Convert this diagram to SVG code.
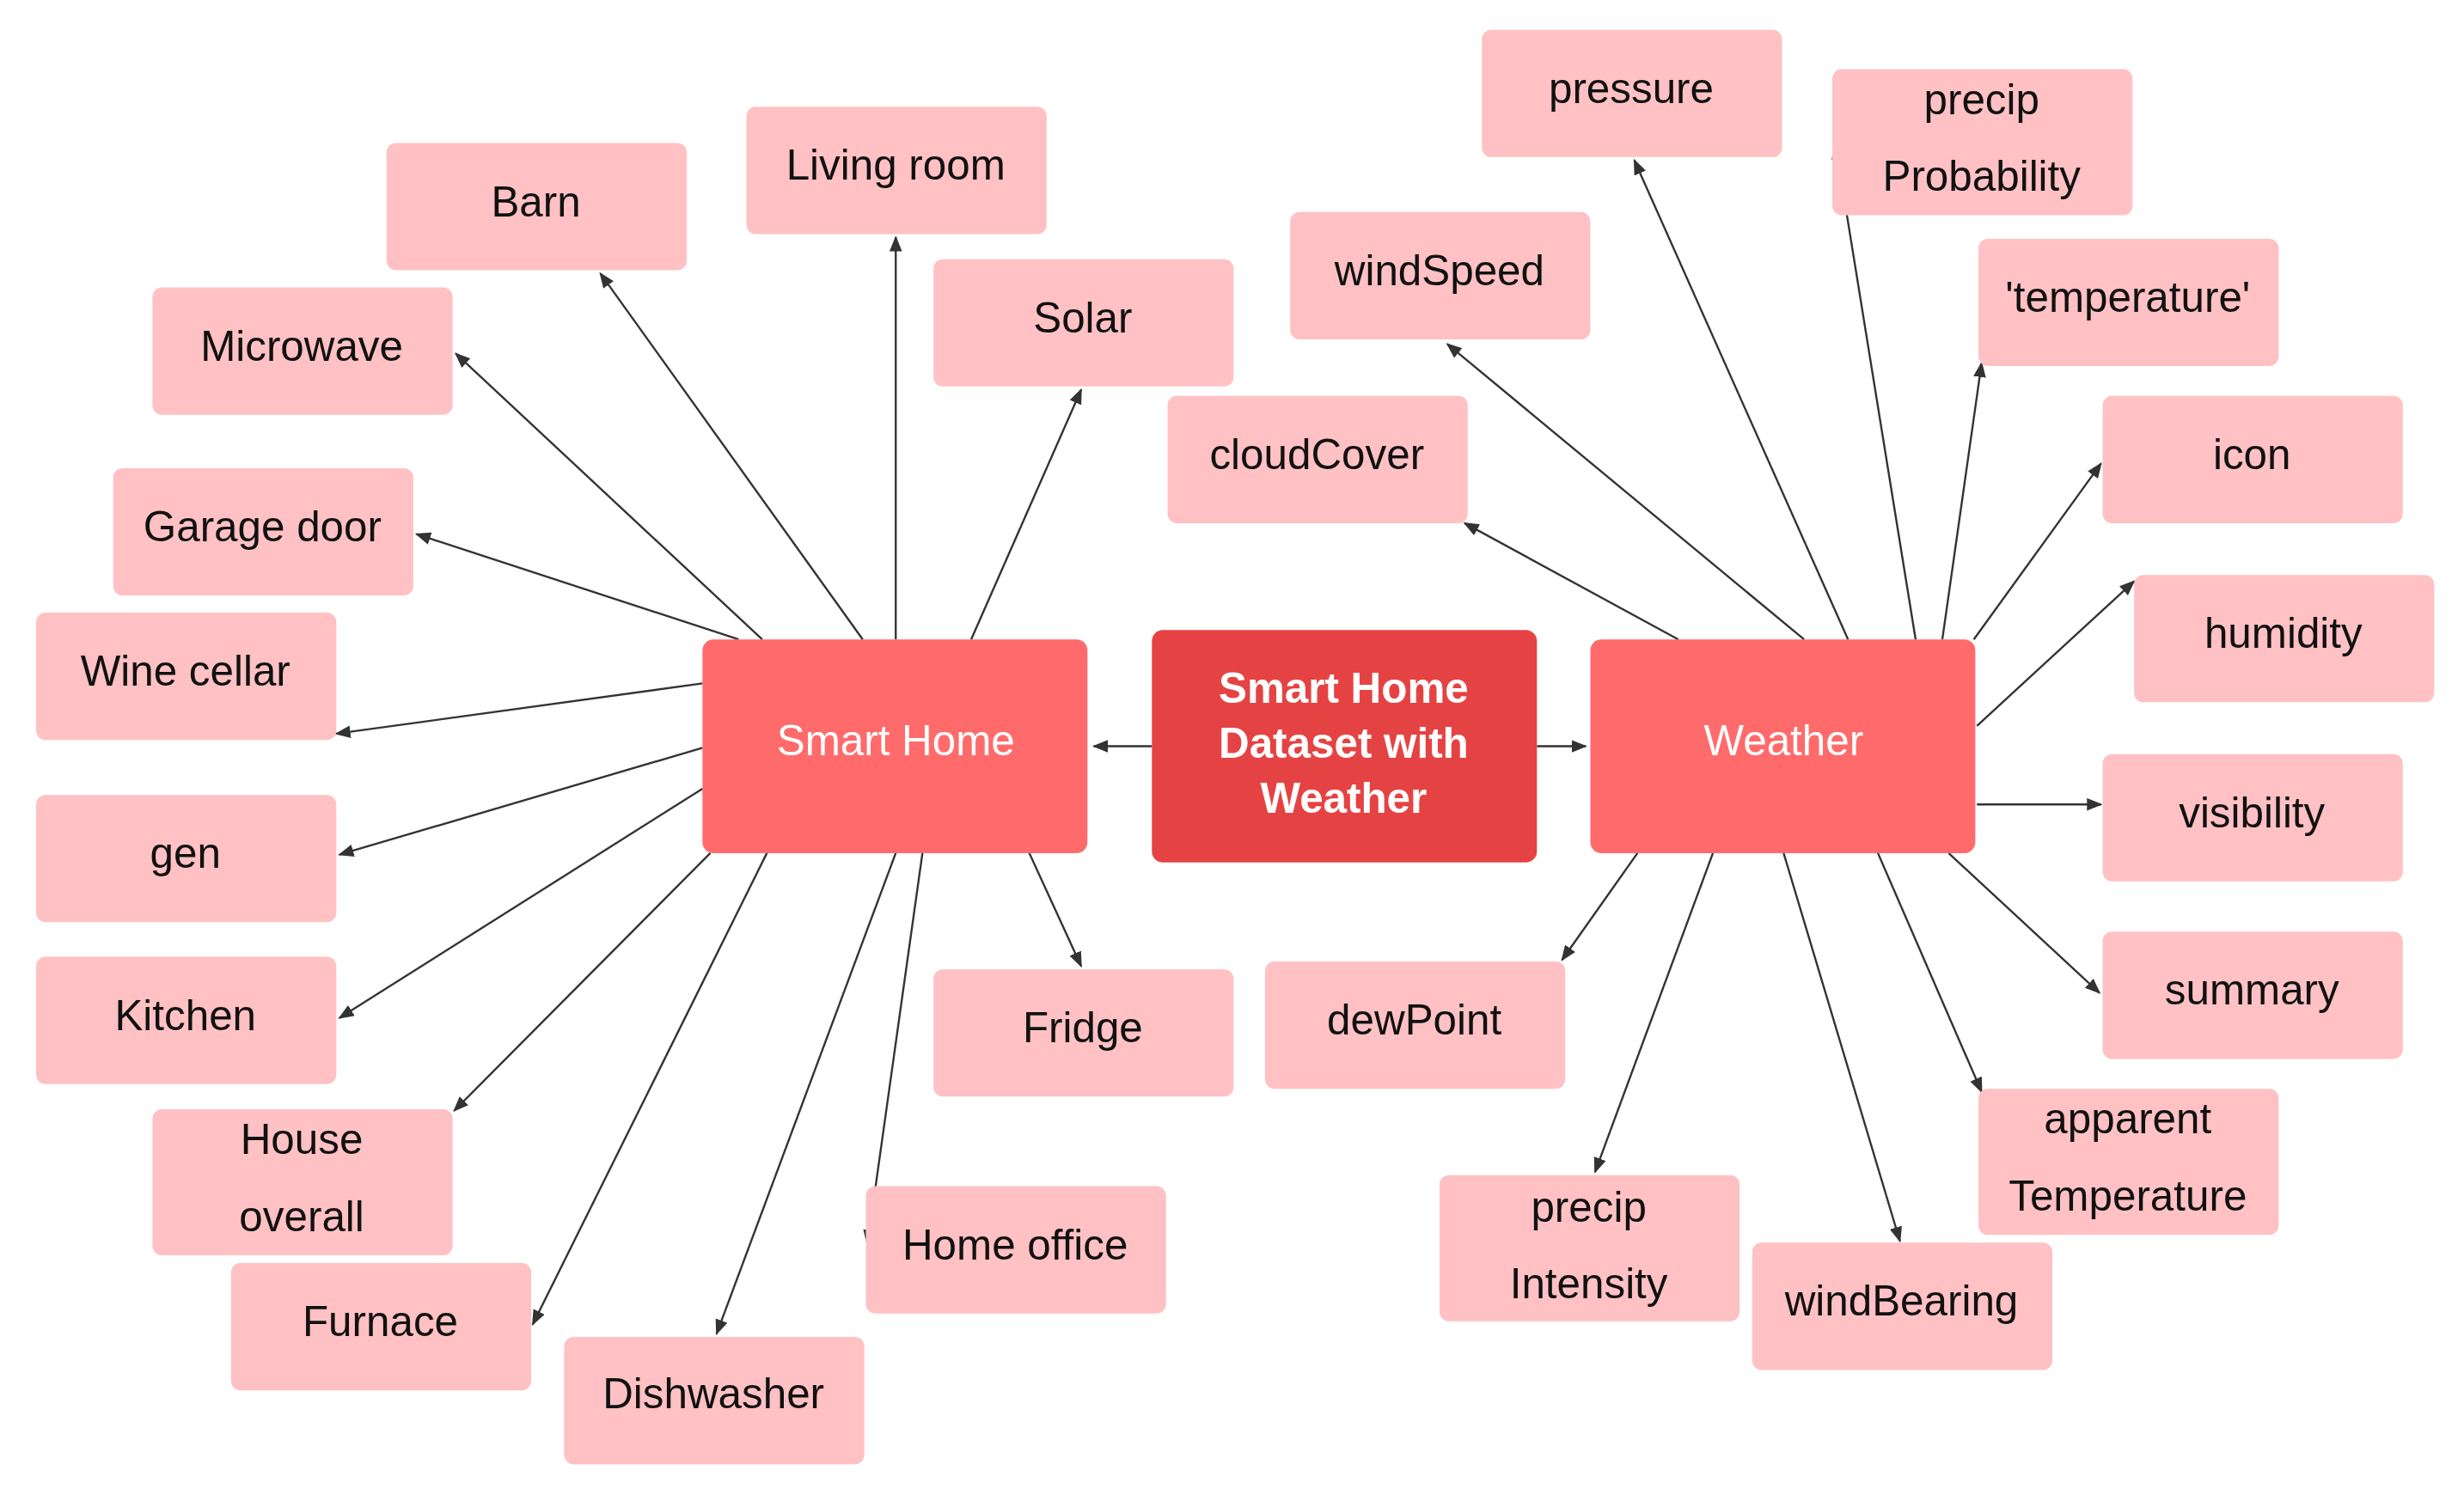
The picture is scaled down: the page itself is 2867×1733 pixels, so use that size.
<svg xmlns="http://www.w3.org/2000/svg" width="2867" height="1733" viewBox="0 0 2867 1733">
<style>
.s{fill:#FFC1C3}
.m{fill:#FF6B6B}
.c{fill:#E54343}
text{font-family:"Liberation Sans",Arial,sans-serif;font-size:27px;fill:#111;text-anchor:middle;dominant-baseline:central}
.w{fill:#fff;font-size:27px}
.b{fill:#fff;font-weight:bold;font-size:27px}
.e{stroke:#333;stroke-width:1.3;fill:none;marker-end:url(#a)}
</style>
<defs><marker id="a" markerWidth="10" markerHeight="10" refX="9" refY="4" orient="auto" markerUnits="userSpaceOnUse"><path d="M0,0L10,4L0,8z" fill="#333"/></marker></defs>
<rect width="2867" height="1733" fill="#fff"/>
<g transform="scale(1.8285)">
<g id="connectors">
<path class="e" d="M733,475L696,475"/><path class="e" d="M978,475L1009,475"/>
<path class="e" d="M549,407L382,174"/><path class="e" d="M570,407L570,151"/><path class="e" d="M618,407L688,248"/>
<path class="e" d="M485,407L290,225"/><path class="e" d="M470,407L265,340"/><path class="e" d="M447,435L214,467"/>
<path class="e" d="M447,476L216,544"/><path class="e" d="M447,502L216,648"/><path class="e" d="M452,543L289,707"/>
<path class="e" d="M488,543L339,843"/><path class="e" d="M570,543L456,849"/><path class="e" d="M587,543L552,792"/>
<path class="e" d="M655,543L688,615"/>
<path class="e" d="M1068,407L932,333"/><path class="e" d="M1148,407L921,219"/><path class="e" d="M1176,407L1040,102"/>
<path class="e" d="M1219,407L1168,92"/><path class="e" d="M1236,407L1261,231"/><path class="e" d="M1256,407L1337,295"/>
<path class="e" d="M1258,462L1358,370"/><path class="e" d="M1258,512L1337,512"/><path class="e" d="M1240,543L1336,632"/>
<path class="e" d="M1195,543L1261,695"/><path class="e" d="M1135,543L1209,790"/><path class="e" d="M1090,543L1015,746"/>
<path class="e" d="M1042,543L994,611"/>
</g>
<g id="center"><rect class="c" x="733" y="401" width="245" height="148" rx="7"/><text class="b" x="855" y="438">Smart Home</text><text class="b" x="855" y="473">Dataset with</text><text class="b" x="855" y="508">Weather</text></g>
<g id="smarthome"><rect class="m" x="447" y="407" width="245" height="136" rx="7"/><text class="w" x="570" y="471">Smart Home</text></g>
<g id="weather"><rect class="m" x="1012" y="407" width="245" height="136" rx="7"/><text class="w" x="1135" y="471">Weather</text></g>
<g id="barn"><rect class="s" x="246" y="91" width="191" height="81" rx="6"/><text x="341" y="128">Barn</text></g>
<g id="living"><rect class="s" x="475" y="68" width="191" height="81" rx="6"/><text x="570" y="105">Living room</text></g>
<g id="solar"><rect class="s" x="594" y="165" width="191" height="81" rx="6"/><text x="689" y="202">Solar</text></g>
<g id="microwave"><rect class="s" x="97" y="183" width="191" height="81" rx="6"/><text x="192" y="220">Microwave</text></g>
<g id="garage"><rect class="s" x="72" y="298" width="191" height="81" rx="6"/><text x="167" y="335">Garage door</text></g>
<g id="wine"><rect class="s" x="23" y="390" width="191" height="81" rx="6"/><text x="118" y="427">Wine cellar</text></g>
<g id="gen"><rect class="s" x="23" y="506" width="191" height="81" rx="6"/><text x="118" y="543">gen</text></g>
<g id="kitchen"><rect class="s" x="23" y="609" width="191" height="81" rx="6"/><text x="118" y="646">Kitchen</text></g>
<g id="house"><rect class="s" x="97" y="706" width="191" height="93" rx="6"/><text x="192" y="725">House</text><text x="192" y="774">overall</text></g>
<g id="furnace"><rect class="s" x="147" y="804" width="191" height="81" rx="6"/><text x="242" y="841">Furnace</text></g>
<g id="dishwasher"><rect class="s" x="359" y="851" width="191" height="81" rx="6"/><text x="454" y="887">Dishwasher</text></g>
<g id="office"><rect class="s" x="551" y="755" width="191" height="81" rx="6"/><text x="646" y="792">Home office</text></g>
<g id="fridge"><rect class="s" x="594" y="617" width="191" height="81" rx="6"/><text x="689" y="654">Fridge</text></g>
<g id="pressure"><rect class="s" x="943" y="19" width="191" height="81" rx="6"/><text x="1038" y="56">pressure</text></g>
<g id="precipProb"><rect class="s" x="1166" y="44" width="191" height="93" rx="6"/><text x="1261" y="63">precip</text><text x="1261" y="112">Probability</text></g>
<g id="windSpeed"><rect class="s" x="821" y="135" width="191" height="81" rx="6"/><text x="916" y="172">windSpeed</text></g>
<g id="temperature"><rect class="s" x="1259" y="152" width="191" height="81" rx="6"/><text x="1354" y="189">'temperature'</text></g>
<g id="cloudCover"><rect class="s" x="743" y="252" width="191" height="81" rx="6"/><text x="838" y="289">cloudCover</text></g>
<g id="icon"><rect class="s" x="1338" y="252" width="191" height="81" rx="6"/><text x="1433" y="289">icon</text></g>
<g id="humidity"><rect class="s" x="1358" y="366" width="191" height="81" rx="6"/><text x="1453" y="403">humidity</text></g>
<g id="visibility"><rect class="s" x="1338" y="480" width="191" height="81" rx="6"/><text x="1433" y="517">visibility</text></g>
<g id="summary"><rect class="s" x="1338" y="593" width="191" height="81" rx="6"/><text x="1433" y="630">summary</text></g>
<g id="apparent"><rect class="s" x="1259" y="693" width="191" height="93" rx="6"/><text x="1354" y="712">apparent</text><text x="1354" y="761">Temperature</text></g>
<g id="dewPoint"><rect class="s" x="805" y="612" width="191" height="81" rx="6"/><text x="900" y="649">dewPoint</text></g>
<g id="precipInt"><rect class="s" x="916" y="748" width="191" height="93" rx="6"/><text x="1011" y="768">precip</text><text x="1011" y="817">Intensity</text></g>
<g id="windBearing"><rect class="s" x="1115" y="791" width="191" height="81" rx="6"/><text x="1210" y="828">windBearing</text></g>
</g>
</svg>
